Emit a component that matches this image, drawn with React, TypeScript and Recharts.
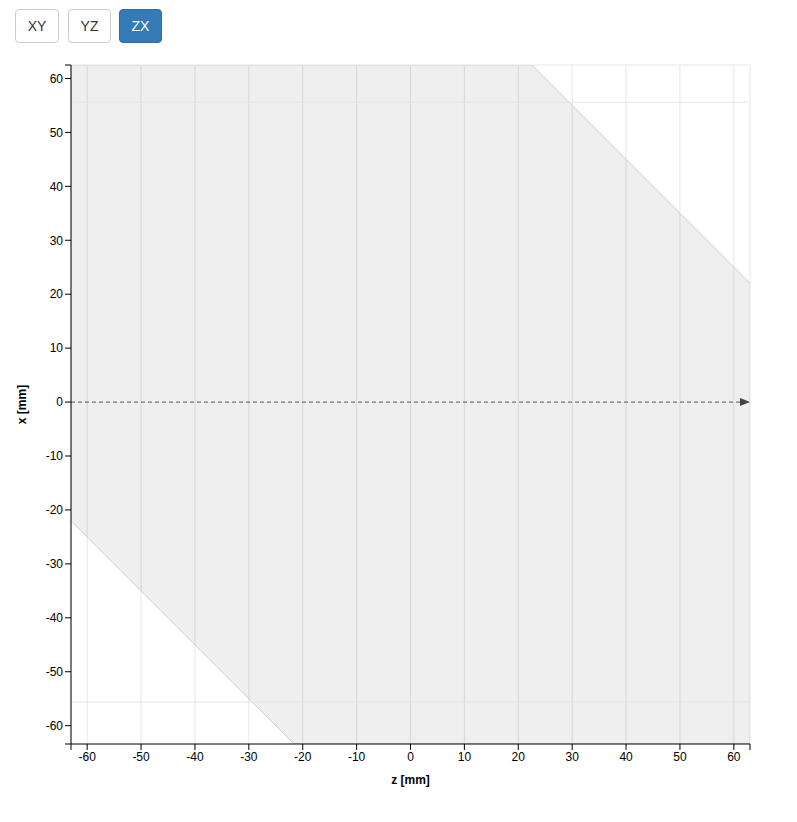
import { ComposedChart, Area, Line, Scatter, XAxis, YAxis, CartesianGrid, ReferenceLine } from 'recharts';

// view extents [mm]
const zDomain = [-63, 63];
const xDomain = [-63.4, 62.5];

const zTicks = [-63, -60, -50, -40, -30, -20, -10, 0, 10, 20, 30, 40, 50, 60, 63];
const xTicks = [-63.4, -60, -50, -40, -30, -20, -10, 0, 10, 20, 30, 40, 50, 60, 62.5];

// reachable band |z + x| <= 85, clipped to the view
const bandZ = [-63, -21.6, 22.5, 63];
const bandLow = [-22, -63.4, -63.4, -63.4];
const bandHigh = [62.5, 62.5, 62.5, 22];

// limit lines
const limitX = [55.6, -55.6];

// beam axis
const beamZ = [-63, 61.3];
const arrowZ = 63;

const bandData = bandZ.map((z, i) => ({ z, band: [bandLow[i], bandHigh[i]] }));
const beamData = beamZ.map((z) => ({ z, v: 0 }));
const arrowData = [{ z: arrowZ, v: 0 }];

const views = ['XY', 'YZ', 'ZX'];
const btnLeft = [15, 68, 119];
const btnWidth = [44, 43, 43];

const label = (v: number) => (Math.round(v) === v && v % 10 === 0 ? String(v) : '');

const Arrow = (props: any) => {
  const { cx, cy } = props;
  return <polygon points={`${cx},${cy} ${cx - 10},${cy - 4} ${cx - 10},${cy + 4}`} fill="#444" />;
};

export default function App() {
  return (
    <div style={{ position: 'absolute', left: 0, top: 0, width: 797, height: 822, fontFamily: '"Liberation Sans", Arial, sans-serif' }}>
      {views.map((v, i) => (
        <div
          key={v}
          style={{
            position: 'absolute',
            left: btnLeft[i],
            top: 9,
            width: btnWidth[i],
            height: 34,
            boxSizing: 'border-box',
            border: '1px solid ' + (v === 'ZX' ? '#2e6da4' : '#ccc'),
            borderRadius: 4,
            background: v === 'ZX' ? '#337ab7' : '#fff',
            color: v === 'ZX' ? '#fff' : '#333',
            fontSize: 14,
            lineHeight: '32px',
            textAlign: 'center',
          }}
        >
          {v}
        </div>
      ))}
      <div style={{ position: 'absolute', left: 0, top: 0 }}>
        <ComposedChart width={797} height={822} margin={{ top: 65, right: 47, bottom: 18, left: 0 }}>
          <CartesianGrid horizontal={false} stroke="#e6e6e6" />
          <XAxis
            dataKey="z"
            type="number"
            domain={zDomain}
            ticks={zTicks}
            interval={0}
            tickFormatter={label}
            allowDataOverflow
            height={60}
            stroke="#000"
            tick={{ fill: '#000', fontSize: 12 }}
            label={{ value: 'z [mm]', position: 'insideBottom', offset: 20, style: { fontWeight: 'bold', fontSize: 12, fill: '#000' } }}
          />
          <YAxis
            type="number"
            domain={xDomain}
            ticks={xTicks}
            interval={0}
            tickFormatter={label}
            allowDataOverflow
            width={71}
            stroke="#000"
            tick={{ fill: '#000', fontSize: 12 }}
            label={{ value: 'x [mm]', angle: -90, position: 'insideLeft', offset: 22, style: { textAnchor: 'middle', fontWeight: 'bold', fontSize: 12, fill: '#000' } }}
          />
          <Area
            data={bandData}
            dataKey="band"
            type="linear"
            fill="#000"
            fillOpacity={0.063}
            stroke="#cccccc"
            strokeWidth={1}
            isAnimationActive={false}
          />
          {limitX.map((y) => (
            <ReferenceLine key={y} y={y} stroke="#e6e6e6" />
          ))}
          <ReferenceLine y={xDomain[1]} stroke="#e6e6e6" />
          <Line
            data={beamData}
            dataKey="v"
            type="linear"
            stroke="#555"
            strokeDasharray="4 3"
            dot={false}
            isAnimationActive={false}
          />
          <Scatter data={arrowData} dataKey="v" shape={Arrow} isAnimationActive={false} />
        </ComposedChart>
      </div>
    </div>
  );
}
